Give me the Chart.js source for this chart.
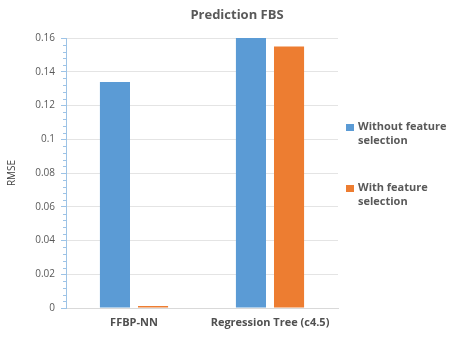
<!DOCTYPE html>
<html lang="en">
<head>
    <meta charset="UTF-8">
    <title>Prediction FBS</title>
    <script src="https://cdn.jsdelivr.net/npm/chart.js"></script>
    <style>
        body { margin: 0; background: #fff; }
        #wrap { width: 474px; height: 338px; }
    </style>
</head>
<body>
    <div id="wrap"><canvas id="chart" width="474" height="338"></canvas></div>

    <script>
        // data
        const chartTitle = 'Prediction FBS';
        const categories = ['FFBP-NN', 'Regression Tree (c4.5)'];
        const withoutFS = [0.134, 0.16];
        const withFS = [0.0012, 0.155];
        const seriesNames = [['Without feature', 'selection'], ['With feature', 'selection']];
        const yTicks = [0, 0.02, 0.04, 0.06, 0.08, 0.1, 0.12, 0.14, 0.16];

        const colors = ['#5b9bd5', '#ed7d31'];
        const textGray = '#595959';

        // small ticks between the labelled ones on the y axis
        const minorTicks = {
            id: 'minorTicks',
            afterDraw(chart) {
                const y = chart.scales.y;
                const ctx = chart.ctx;
                const x0 = y.right;
                ctx.save();
                ctx.strokeStyle = '#9dc3e6';
                ctx.lineWidth = 1;
                for (let i = 0; i < yTicks.length - 1; i++) {
                    for (let k = 1; k < 5; k++) {
                        const v = yTicks[i] + (yTicks[i + 1] - yTicks[i]) * k / 5;
                        const py = Math.round(y.getPixelForValue(v)) + 0.5;
                        ctx.beginPath();
                        ctx.moveTo(x0 - 3, py);
                        ctx.lineTo(x0, py);
                        ctx.stroke();
                    }
                }
                ctx.restore();
            }
        };

        // title centred on the whole picture, legend on the right with two-line labels
        const decorations = {
            id: 'decorations',
            afterDraw(chart) {
                const ctx = chart.ctx;
                ctx.save();
                ctx.fillStyle = textGray;
                ctx.textBaseline = 'middle';
                ctx.textAlign = 'center';
                ctx.font = 'bold 13px "Open Sans"';
                ctx.fillText(chartTitle, 237, 15);

                const tops = [127, 188];
                ctx.textAlign = 'left';
                ctx.font = 'bold 11px "Open Sans"';
                seriesNames.forEach((lines, i) => {
                    ctx.fillStyle = colors[i];
                    ctx.fillRect(346, tops[i] - 3, 8, 7);
                    ctx.fillStyle = textGray;
                    lines.forEach((t, j) => ctx.fillText(t, 358, tops[i] + j * 14));
                });
                ctx.restore();
            }
        };

        new Chart(document.getElementById('chart'), {
            type: 'bar',
            data: {
                labels: categories,
                datasets: [
                    { label: seriesNames[0].join(' '), data: withoutFS, backgroundColor: colors[0] },
                    { label: seriesNames[1].join(' '), data: withFS, backgroundColor: colors[1] }
                ]
            },
            options: {
                responsive: false,
                animation: false,
                layout: { padding: { left: 4, right: 136, top: 38, bottom: 0 } },
                datasets: { bar: { categoryPercentage: 0.56, barPercentage: 0.79 } },
                plugins: {
                    legend: { display: false },
                    tooltip: { enabled: false },
                    title: { display: false }
                },
                scales: {
                    x: {
                        grid: { display: false },
                        border: { color: '#d9d9d9' },
                        afterFit(scale) { scale.height = 30; },
                        ticks: { color: '#505050', font: { family: 'Open Sans', size: 11, weight: 'bold' }, padding: 0 }
                    },
                    y: {
                        min: 0,
                        max: 0.16,
                        afterBuildTicks(scale) { scale.ticks = yTicks.map(v => ({ value: v })); },
                        afterFit(scale) { scale.width = 62; },
                        grid: { color: '#e4e4e4', tickColor: '#9dc3e6', tickLength: 5 },
                        border: { color: '#9dc3e6' },
                        ticks: {
                            color: textGray,
                            font: { family: 'Open Sans', size: 10 },
                            padding: 6,
                            callback: v => String(Math.round(v * 100) / 100)
                        },
                        title: {
                            display: true,
                            text: 'RMSE',
                            color: '#404040',
                            font: { family: 'Open Sans', size: 10 },
                            padding: 2
                        }
                    }
                }
            },
            plugins: [minorTicks, decorations]
        });
    </script>
</body>
</html>
